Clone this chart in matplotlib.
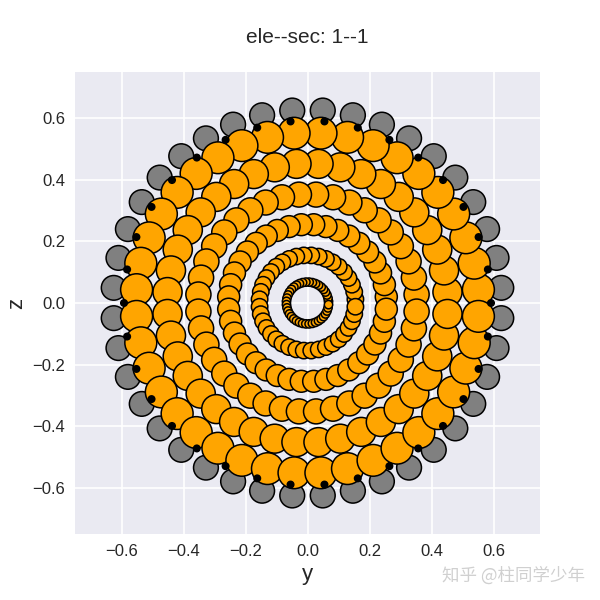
import numpy as np
import matplotlib
matplotlib.use("Agg")
import matplotlib.pyplot as plt

# Angular positions (degrees)
circle_angles = [4.5, 13.5, 22.5, 31.5, 40.5, 49.5, 58.5, 67.5, 76.5, 85.5,
                 94.5, 103.5, 112.5, 121.5, 130.5, 139.5, 148.5, 157.5, 166.5, 175.5,
                 184.5, 193.5, 202.5, 211.5, 220.5, 229.5, 238.5, 247.5, 256.5, 265.5,
                 274.5, 283.5, 292.5, 301.5, 310.5, 319.5, 328.5, 337.5, 346.5, 355.5]
dot_angles = [0.0, 10.6, 21.2, 31.8, 42.4, 52.9, 63.5, 74.1, 84.7, 95.3, 105.9, 116.5,
              127.1, 137.6, 148.2, 158.8, 169.4, 180.0, 190.6, 201.2, 211.8, 222.4,
              232.9, 243.5, 254.1, 264.7, 275.3, 285.9, 296.5, 307.1, 317.6, 328.2,
              338.8, 349.4]

ring_radii = [0.068, 0.155, 0.255, 0.353, 0.453, 0.553]
ring_sizes = [0.0135, 0.0265, 0.0355, 0.0405, 0.0470, 0.0515]
gray_radius = 0.627
gray_size = 0.0400
dot_radius = 0.592
dot_size = 0.0105

xticks = [-0.6, -0.4, -0.2, 0.0, 0.2, 0.4, 0.6]
title = "ele--sec: 1--1"
xlabel = "y"
ylabel = "z"
watermark = "知乎 @柱同学少年"

plt.rcParams['font.family'] = ['Liberation Sans', 'Noto Sans CJK SC', 'DejaVu Sans']
INK = '#262626'

fig, ax = plt.subplots(figsize=(6, 6), dpi=100)
fig.subplots_adjust(left=0.125, right=0.9, top=0.88, bottom=0.11)
ax.set_facecolor('#EAEAF2')
for s in ax.spines.values():
    s.set_visible(False)
ax.grid(True, color='white', linewidth=1.2, zorder=0)
ax.set_axisbelow(True)


def ring(radius, angles, size, color, z):
    a = np.deg2rad(angles)
    for t in a:
        ax.add_patch(plt.Circle((radius * np.cos(t), radius * np.sin(t)), size,
                                facecolor=color, edgecolor='black', linewidth=1.1,
                                zorder=z))


ring(gray_radius, circle_angles, gray_size, 'gray', 2)
for r, sz in zip(ring_radii, ring_sizes):
    ring(r, circle_angles, sz, 'orange', 3)
ring(dot_radius, dot_angles, dot_size, 'black', 4)

ax.set_xlim(-0.75, 0.75)
ax.set_ylim(-0.75, 0.75)
ax.set_xticks(xticks)
ax.set_yticks(xticks)
ax.tick_params(length=0, labelsize=12, labelcolor=INK, pad=7)
ax.set_xlabel(xlabel, fontsize=16, color=INK, labelpad=4)
ax.set_ylabel(ylabel, fontsize=16, color=INK, labelpad=4)
ax.set_title(title, fontsize=15, color=INK, pad=21)
fig.text(0.9745, 0.0415, watermark, ha='right', va='center', fontsize=12.6,
         color='#d0d0d0', family=['Noto Sans CJK SC', 'DejaVu Sans'])
fig.savefig('out.png', dpi=100)
